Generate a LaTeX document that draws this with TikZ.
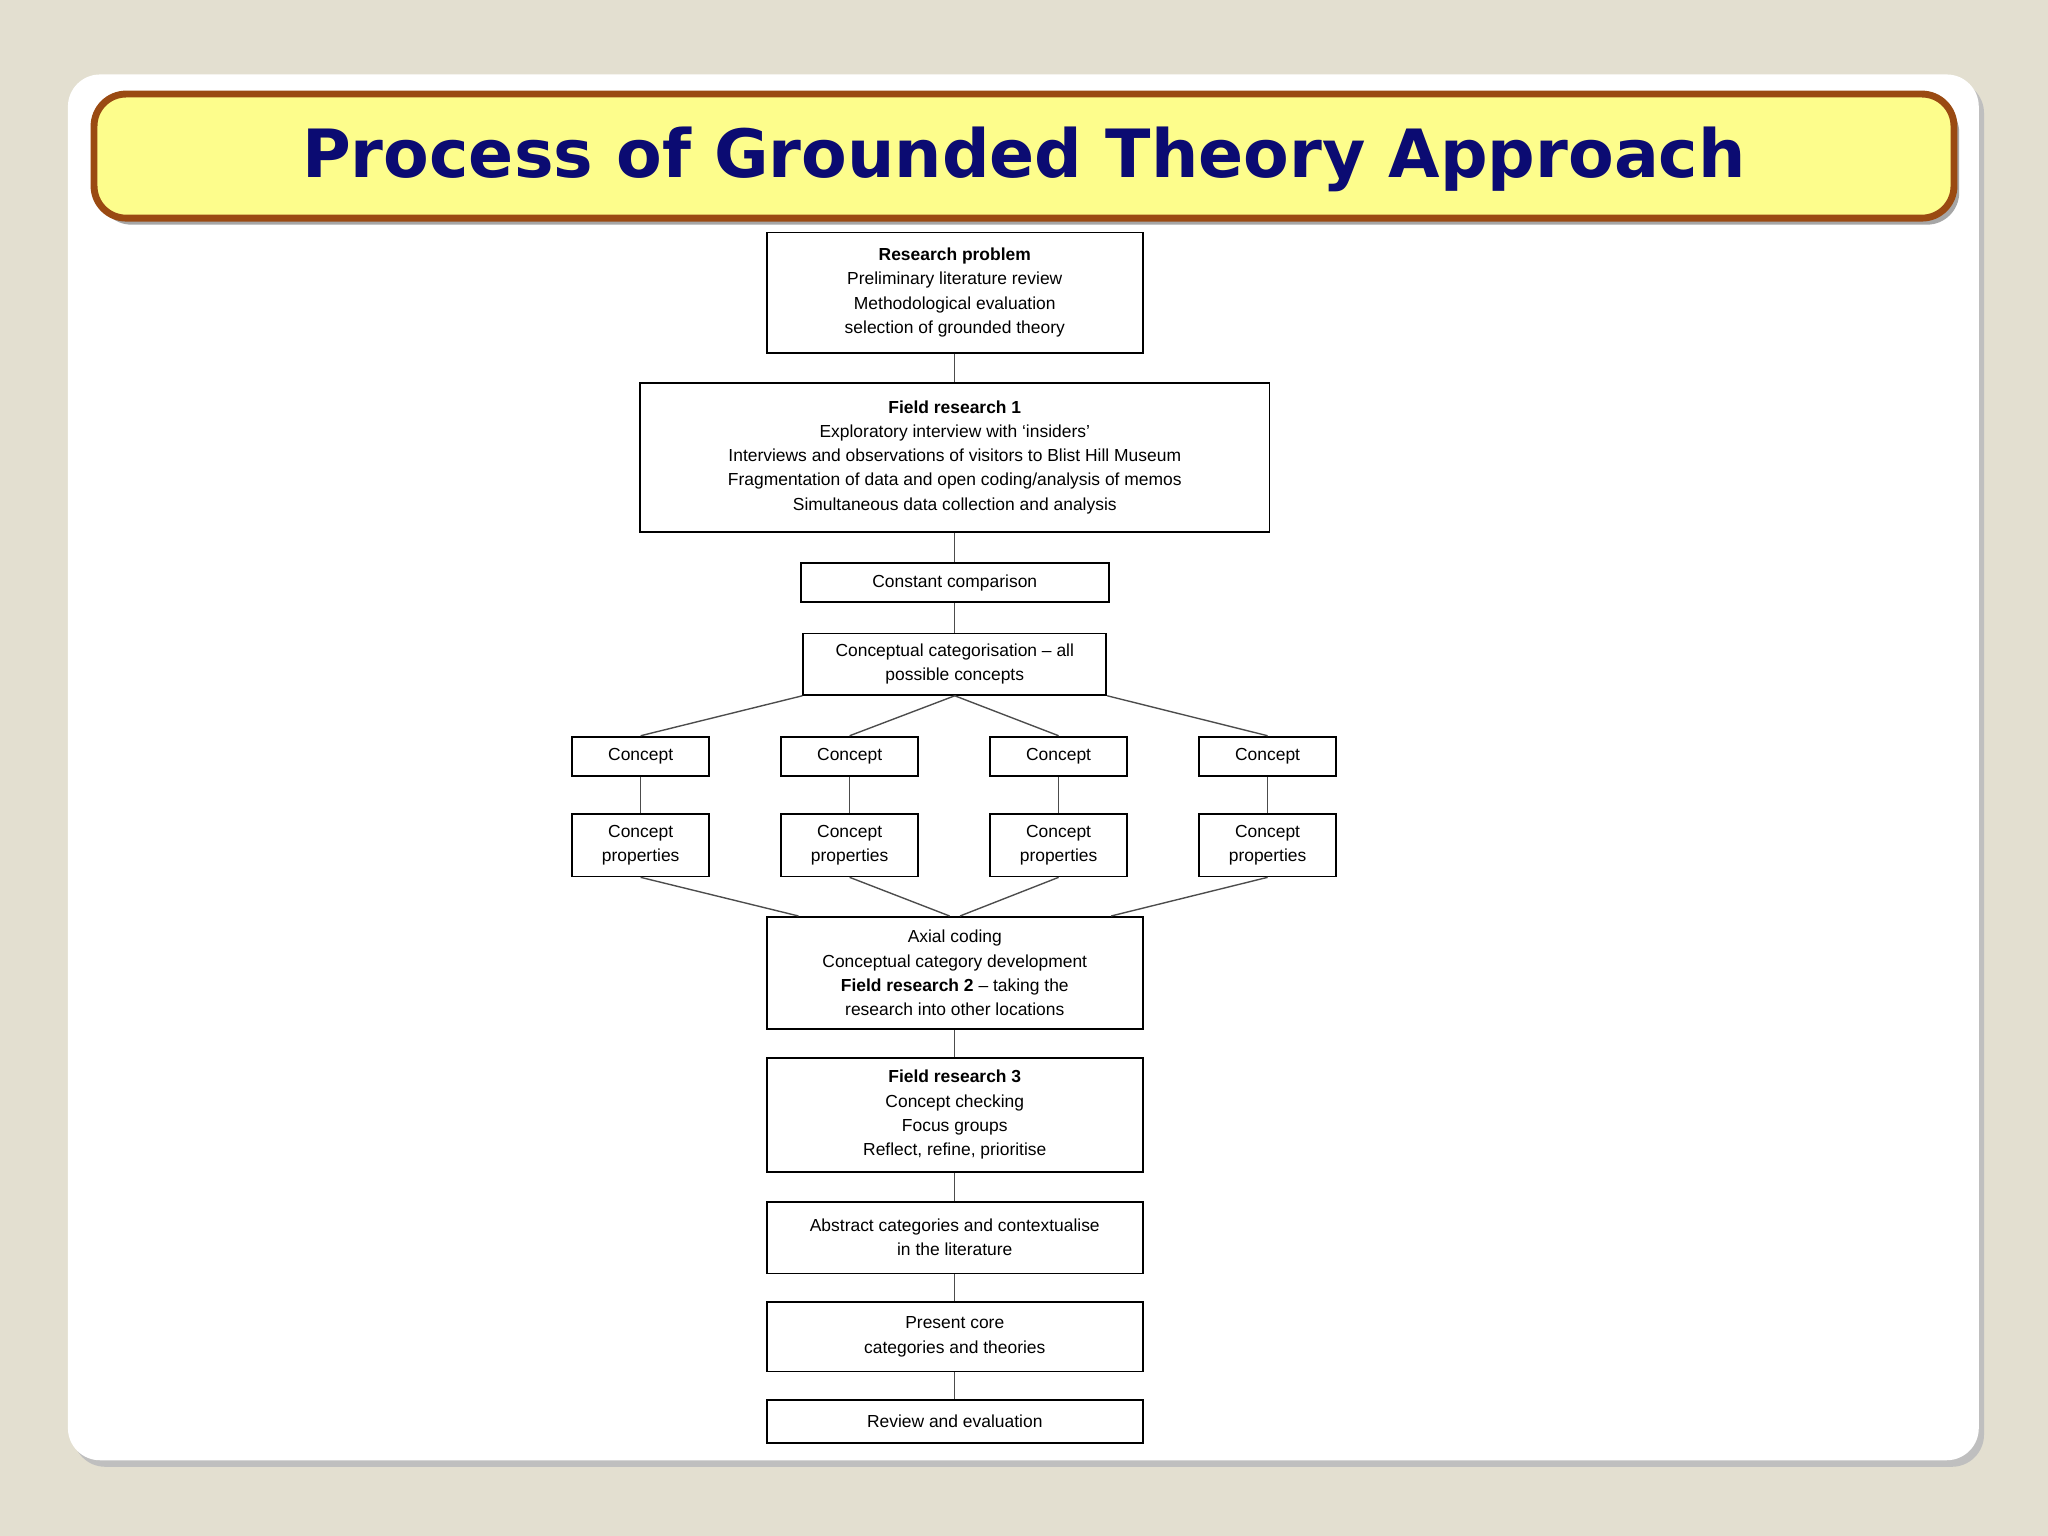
\documentclass[tikz,border=0pt]{standalone}
\usepackage{fontspec}
\setmainfont{Liberation Sans}
\newfontfamily\titlefont{DejaVu Sans}
\usetikzlibrary{calc}
\definecolor{bgc}{HTML}{E3DFD0}
\definecolor{ttl}{HTML}{0B0B72}
\definecolor{brd}{HTML}{9A4A12}
\definecolor{ylw}{HTML}{FDFD8C}
\tikzset{
 bx/.style={draw=black,line width=0.8pt,fill=white,align=center,inner sep=0pt,
   font=\fontsize{7.6}{10.6}\selectfont},
 ln/.style={draw=black!70,line width=0.6pt}
}
\newcommand{\boxat}[5]{\node[bx,minimum width={(#3-#1)*0.02cm},minimum height={(#4-#2)*0.02cm}] (#5) at ({(#1+#3)/2},{(#2+#4)/2})}
\begin{document}
\begin{tikzpicture}[x=0.02cm,y=-0.02cm]
\fill[bgc] (0,0) rectangle (1568,1176);
\useasboundingbox (0,0) rectangle (1568,1176);
\fill[black!25,rounded corners=14] (56,62) rectangle (1519,1123);
\fill[white,rounded corners=14] (52,57) rectangle (1515,1118);
\fill[black!35,rounded corners=14] (76,77) rectangle (1500,172);
\draw[brd,line width=3pt,fill=ylw,rounded corners=14] (72,72) rectangle (1496,167);
\node[ttl,font=\titlefont\bfseries\fontsize{29}{32}\selectfont] (title) at (784,122) {Process of Grounded Theory Approach};

\boxat{587}{178}{875}{270}{rp} {\textbf{Research problem}\\Preliminary literature review\\Methodological evaluation\\selection of grounded theory};
\boxat{490}{293}{972}{407}{f1} {\textbf{Field research 1}\\Exploratory interview with ‘insiders’\\Interviews and observations of visitors to Blist Hill Museum\\Fragmentation of data and open coding/analysis of memos\\Simultaneous data collection and analysis};
\boxat{613}{431}{849}{461}{cc} {Constant comparison};
\boxat{615}{485}{847}{532}{cat} {Conceptual categorisation – all\\possible concepts};
\boxat{438}{564}{543}{594}{c1} {Concept};
\boxat{598}{564}{703}{594}{c2} {Concept};
\boxat{758}{564}{863}{594}{c3} {Concept};
\boxat{918}{564}{1023}{594}{c4} {Concept};
\boxat{438}{623}{543}{671}{p1} {Concept\\properties};
\boxat{598}{623}{703}{671}{p2} {Concept\\properties};
\boxat{758}{623}{863}{671}{p3} {Concept\\properties};
\boxat{918}{623}{1023}{671}{p4} {Concept\\properties};
\boxat{587}{702}{875}{788}{ax} {Axial coding\\Conceptual category development\\\textbf{Field research 2} – taking the\\research into other locations};
\boxat{587}{810}{875}{897}{f3} {\textbf{Field research 3}\\Concept checking\\Focus groups\\Reflect, refine, prioritise};
\boxat{587}{920}{875}{975}{ab} {Abstract categories and contextualise\\in the literature};
\boxat{587}{997}{875}{1050}{pr} {Present core\\categories and theories};
\boxat{587}{1072}{875}{1105}{rv} {Review and evaluation};

\draw[ln] (rp) -- (f1);
\draw[ln] (f1) -- (cc);
\draw[ln] (cc) -- (cat);
\draw[ln] (cat.south west) -- (c1.north);
\draw[ln] (cat.south) -- (c2.north);
\draw[ln] (cat.south) -- (c3.north);
\draw[ln] (cat.south east) -- (c4.north);
\foreach \i in {1,2,3,4} \draw[ln] (c\i) -- (p\i);
\draw[ln] (p1.south) -- ($(ax.north west)+(25,0)$);
\draw[ln] (p2.south) -- ($(ax.north)+(-4,0)$);
\draw[ln] (p3.south) -- ($(ax.north)+(4,0)$);
\draw[ln] (p4.south) -- ($(ax.north east)+(-25,0)$);
\draw[ln] (ax) -- (f3);
\draw[ln] (f3) -- (ab);
\draw[ln] (ab) -- (pr);
\draw[ln] (pr) -- (rv);
\end{tikzpicture}
\end{document}
